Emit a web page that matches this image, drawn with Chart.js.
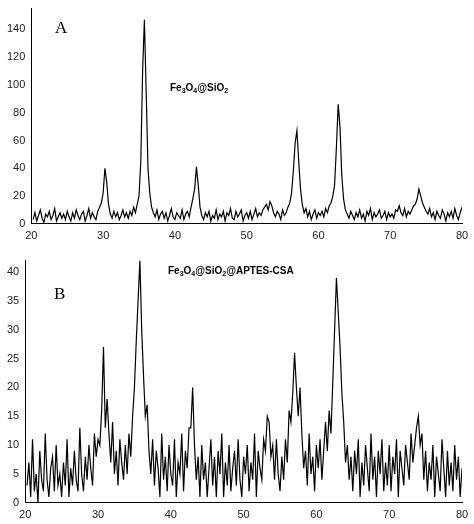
<!DOCTYPE html>
<html><head><meta charset="utf-8">
<script src="https://cdn.jsdelivr.net/npm/chart.js@4"></script>
<style>
body{margin:0;background:#fff;width:474px;height:524px;position:relative;font-family:"Liberation Sans",Arial,sans-serif}
.c{position:absolute;left:0;width:474px}
.lab{position:absolute;font-size:10px;font-weight:bold;color:#000}
.big{position:absolute;font-family:"Liberation Serif",serif;font-size:17px}
sub{font-size:7px;vertical-align:-2px}
</style></head><body>
<div class="c" style="top:0;height:245px"><canvas id="a"></canvas></div>
<div class="c" style="top:252px;height:272px"><canvas id="b"></canvas></div>
<div class="big" style="left:55px;top:18px">A</div>
<div class="lab" style="left:170px;top:82px">Fe<sub>3</sub>O<sub>4</sub>@SiO<sub>2</sub></div>
<div class="big" style="left:54px;top:284px">B</div>
<div class="lab" style="left:168px;top:265px">Fe<sub>3</sub>O<sub>4</sub>@SiO<sub>2</sub>@APTES-CSA</div>
<script>
const startAngle=20.25, stepAngle=0.25;
const xTicks=[20,30,40,50,60,70,80];
const yTicksA=[0,20,40,60,80,100,120,140];
const yTicksB=[0,5,10,15,20,25,30,35,40];
const seriesA=[3,8,2,6,10,4,1,7,5,9,3,6,11,2,5,8,4,7,3,9,
5,2,8,4,10,6,3,7,9,2,6,11,4,8,5,3,9,12,15,22,
40,30,14,7,4,9,5,8,3,6,10,5,8,4,9,6,12,8,14,20,
45,110,147,95,40,22,12,8,5,10,3,7,9,4,8,2,6,11,5,3,
8,6,4,10,3,7,9,5,12,18,25,41,28,12,6,3,8,5,9,2,
6,4,10,3,7,5,9,2,8,6,11,4,3,9,5,7,10,2,6,8,
4,9,3,7,11,5,8,6,10,12,14,10,16,13,8,5,9,7,3,10,
6,8,12,15,22,38,58,67,45,25,14,8,11,5,9,3,7,10,4,8,
6,9,5,11,8,13,15,20,28,55,86,70,35,18,10,7,4,9,6,3,
8,5,10,4,7,2,9,6,11,3,8,5,7,10,4,6,9,3,8,5,
7,4,10,9,13,8,6,11,5,9,7,10,13,14,18,25,20,15,12,9,
7,11,5,8,3,9,6,4,10,7,2,8,5,9,4,11,6,3,8,12];
const seriesB=[3,7,1,11,2,5,0,9,4,2,12,4,1,6,8,2,10,3,5,1,
7,3,11,1,6,3,9,4,2,13,5,2,8,4,10,6,3,12,8,11,
10,16,27,13,18,12,7,14,5,9,3,11,7,4,10,5,12,8,15,20,
28,35,42,30,22,15,17,9,5,11,3,9,6,1,12,4,8,2,10,5,
3,11,1,7,5,12,2,9,6,13,13,20,10,4,8,1,10,4,7,1,
6,11,3,8,1,9,5,12,1,7,3,10,2,6,9,3,11,4,1,8,
5,10,2,7,4,12,1,9,6,4,11,9,15,14,8,10,4,11,5,2,
8,4,11,7,16,14,19,26,20,15,20,12,6,9,3,12,5,8,2,10,
6,11,4,9,14,9,16,12,21,30,39,33,27,19,14,7,10,4,8,2,
9,5,11,1,7,3,10,6,2,12,4,8,1,9,5,11,2,7,3,10,
2,8,5,11,1,9,6,3,10,7,4,12,7,10,13,15,10,12,4,9,
2,7,4,10,1,8,5,2,11,6,1,9,3,7,2,10,4,8,1,6];
function pts(arr){return arr.map((v,i)=>({x:startAngle+i*stepAngle,y:v}));}
function make(id,data,yt,ymax,pad){
 new Chart(document.getElementById(id),{type:'line',
  data:{datasets:[{data:pts(data),borderColor:'#000',borderWidth:1.2,pointRadius:0,tension:0}]},
  options:{responsive:true,maintainAspectRatio:false,animation:false,
   layout:{padding:pad},
   plugins:{legend:{display:false},tooltip:{enabled:false}},
   scales:{
    x:{type:'linear',min:20,max:80,grid:{display:false,drawTicks:true,tickLength:4,color:'#000'},border:{color:'#000'},
      afterBuildTicks:s=>{s.ticks=xTicks.map(v=>({value:v}));},
      ticks:{color:'#222',font:{size:11,family:'Liberation Sans'},maxRotation:0,padding:2}},
    y:{min:0,max:ymax,grid:{display:false,drawTicks:true,tickLength:4,color:'#000'},border:{color:'#000'},
      afterBuildTicks:s=>{s.ticks=yt.map(v=>({value:v}));},
      ticks:{color:'#222',font:{size:11,family:'Liberation Sans'},padding:2}}
   }}});
}
make('a',seriesA,yTicksA,155,{top:5,right:12,left:5,bottom:0});
make('b',seriesB,yTicksB,42,{top:5,right:12,left:5,bottom:0});
</script></body></html>
